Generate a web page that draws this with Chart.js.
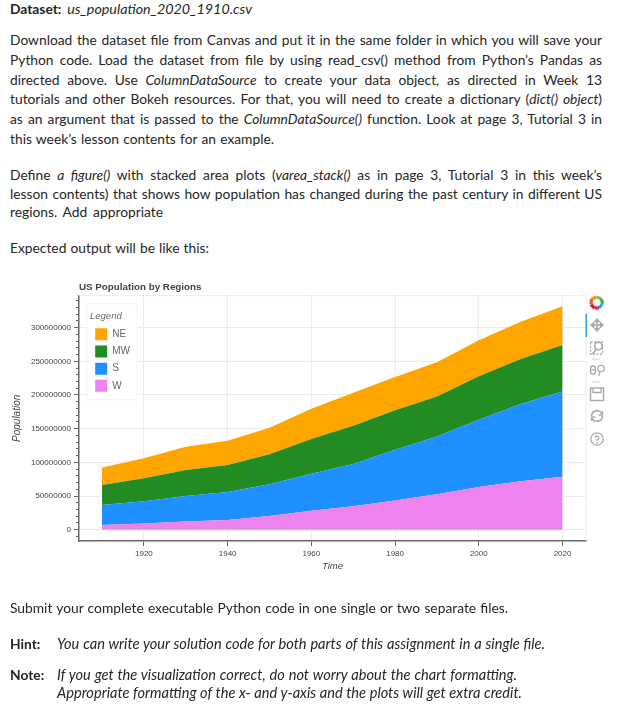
<!DOCTYPE html>
<html>
<head>
<meta charset="utf-8">
<script src="https://cdn.jsdelivr.net/npm/chart.js@4"></script>
<style>
html, body { margin: 0; padding: 0; background: #fff; }
body { width: 617px; height: 712px; position: relative; overflow: hidden; font-family: Lato, sans-serif; font-size: 13.8px; color: #262626; }
.ln { position: absolute; left: 10px; width: 592px; line-height: 18px; white-space: nowrap; text-align: justify; text-align-last: justify; }
.big { font-size: 14.6px; }
canvas { position: absolute; left: 0; top: 275px; }
#tools { position: absolute; left: 0; top: 0; }
</style>
</head>
<body>
<div class="ln" style="top:0px;width:242px"><b>Dataset:</b> <i style="font-size:14.3px">us_population_2020_1910.csv</i></div>
<div class="ln" style="top:31px">Download the dataset file from Canvas and put it in the same folder in which you will save your</div>
<div class="ln" style="top:51px">Python code. Load the dataset from file by using read_csv() method from Python’s Pandas as</div>
<div class="ln" style="top:71px">directed above. Use <i>ColumnDataSource</i> to create your data object, as directed in Week 13</div>
<div class="ln" style="top:90px">tutorials and other Bokeh resources. For that, you will need to create a dictionary (<i>dict() object</i>)</div>
<div class="ln" style="top:110px">as an argument that is passed to the <i>ColumnDataSource()</i> function. Look at page 3, Tutorial 3 in</div>
<div class="ln" style="top:130px;width:264px">this week’s lesson contents for an example.</div>
<div class="ln" style="top:166px">Define <i>a figure()</i> with stacked area plots (<i>varea_stack()</i> as in page 3, Tutorial 3 in this week’s</div>
<div class="ln" style="top:185px">lesson contents) that shows how population has changed during the past century in different US</div>
<div class="ln" style="top:203px;width:153px">regions. Add appropriate</div>
<div class="ln" style="top:239px;width:199px">Expected output will be like this:</div>

<canvas id="popChart" width="617" height="315"></canvas>

<svg id="tools" width="617" height="712" fill="none" stroke="#aaa" stroke-width="1.3">
  <rect x="585.5" y="314" width="1.5" height="23" fill="#26aae1" stroke="none"/>
  <g stroke-width="3.2">
    <path d="M591.5 299 L596.7 297" stroke="#f7931e"/>
    <path d="M596.7 297 L601.5 299" stroke="#8cc63f"/>
    <path d="M601.5 299 L602.5 304" stroke="#39b54a"/>
    <path d="M602.5 304 L599 308" stroke="#29abe2"/>
    <path d="M599 308 L594.5 308" stroke="#ed1e79"/>
    <path d="M594.5 308 L591 304.5" stroke="#c1272d"/>
    <path d="M591 304.5 L591.5 299" stroke="#f15a24"/>
  </g>
  <path d="M597 319 V331 M591 325 H603 M597 319 l-2 2.5 h4 z M597 331 l-2 -2.5 h4 z M591 325 l2.5 -2 v4 z M603 325 l-2.5 -2 v4 z" stroke-width="1.6"/>
  <rect x="590.5" y="342" width="12" height="12" stroke-dasharray="2 1.5"/>
  <circle cx="598.5" cy="346" r="3.8" stroke-width="1.6"/>
  <path d="M596 349.5 L592.5 354" stroke-width="1.8"/>
  <path d="M592 359 H600" stroke="#ddd"/>
  <rect x="590.5" y="366" width="5" height="8" rx="2.5"/>
  <path d="M590.5 370 H595.5"/>
  <circle cx="601" cy="368.5" r="3.2"/>
  <path d="M600 372 L598.5 376"/>
  <path d="M592 382 H600" stroke="#ddd"/>
  <rect x="590.5" y="388" width="13" height="12.5" stroke-width="1.5"/>
  <path d="M593 388 V392.5 H601 V388"/>
  <path d="M591.5 416 A5.5 5.5 0 0 1 602 414 M602.5 416 A5.5 5.5 0 0 1 592 418" stroke-width="1.6"/>
  <path d="M602.5 411 V415 H599 M591.5 421 V417 H595"/>
  <circle cx="597" cy="439" r="6.2"/>
  <path d="M595 437.5 A2 2 0 1 1 597 440 V441 M597 442 V443.5"/>
</svg>

<div class="ln" style="top:599px;width:498px">Submit your complete executable Python code in one single or two separate files.</div>
<div class="ln" style="top:635px;text-align-last:left"><b>Hint:</b></div>
<div class="ln big" style="top:635px;left:57px;width:488px"><i>You can write your solution code for both parts of this assignment in a single file.</i></div>
<div class="ln" style="top:666px;text-align-last:left"><b>Note:</b></div>
<div class="ln big" style="top:666px;left:57px;width:460px"><i>If you get the visualization correct, do not worry about the chart formatting.</i></div>
<div class="ln big" style="top:684px;left:57px;width:465px"><i>Appropriate formatting of the x- and y-axis and the plots will get extra credit.</i></div>

<script>
const years = [1910, 1920, 1930, 1940, 1950, 1960, 1970, 1980, 1990, 2000, 2010, 2020];
const west = [7100000, 9200000, 12300000, 14400000, 20200000, 28100000, 34800000, 43200000, 52800000, 63200000, 71900000, 78600000];
const south = [29400000, 33100000, 37900000, 41700000, 47200000, 55000000, 62800000, 75400000, 85400000, 100200000, 114600000, 126600000];
const midwest = [29900000, 34000000, 38600000, 40100000, 44500000, 51600000, 56600000, 58900000, 59700000, 64400000, 66900000, 68900000];
const northeast = [25900000, 29700000, 34400000, 36000000, 39500000, 44700000, 49000000, 49100000, 50800000, 53600000, 55300000, 57600000];
const yearTicks = [1920, 1940, 1960, 1980, 2000, 2020];
const populationTicks = [-10, 0, 10, 20, 30, 40, 50, 60, 70, 80, 90, 100, 110, 120, 130, 140, 150, 160, 170, 180, 190, 200,
    210, 220, 230, 240, 250, 260, 270, 280, 290, 300, 310, 320, 330, 340].map(m => m * 1000000);

const axisFont = { family: '"Liberation Sans", Arial, sans-serif', size: 8 };
const textGrey = '#444';
const legendGrey = '#666';
const gridGrey = '#ececec';
const isMajor = v => v % 50000000 === 0;

function area(label, values, color, fill) {
    return {
        label: label,
        data: years.map((y, i) => ({ x: y, y: values[i] })),
        backgroundColor: color,
        borderColor: color,
        borderWidth: 0,
        pointRadius: 0,
        tension: 0,
        fill: fill
    };
}

// Moves the built-in legend inside the plot and draws its box and the top/right frame
const plotDecor = {
    id: 'plotDecor',
    beforeLayout(chart) {
        chart.legend._layers = () => [{ z: 1, draw: () => chart.legend.draw() }];
    },
    afterLayout(chart) {
        const a = chart.chartArea;
        const legend = chart.legend;
        legend.left = a.left + 11;
        legend.top = a.top + 8;
        legend.right = legend.left + 47;
        legend.bottom = legend.top + 96;
    },
    afterDatasetsDraw(chart) {
        const a = chart.chartArea;
        const ctx = chart.ctx;
        ctx.save();
        ctx.fillStyle = '#fff';
        ctx.strokeStyle = '#f2f2f2';
        ctx.lineWidth = 1;
        ctx.fillRect(a.left + 8, a.top + 8, 50, 96);
        ctx.strokeRect(a.left + 8, a.top + 8, 50, 96);
        ctx.strokeStyle = gridGrey;
        ctx.beginPath();
        ctx.moveTo(a.left, a.top);
        ctx.lineTo(a.right, a.top);
        ctx.lineTo(a.right, a.bottom);
        ctx.stroke();
        ctx.restore();
    }
};

new Chart(document.getElementById('popChart').getContext('2d'), {
    type: 'line',
    data: {
        datasets: [
            area('W', west, '#EE82EE', 'origin'),
            area('S', south, '#1E90FF', '-1'),
            area('MW', midwest, '#228B22', '-1'),
            area('NE', northeast, '#FFA500', '-1')
        ]
    },
    plugins: [plotDecor],
    options: {
        responsive: false,
        animation: false,
        devicePixelRatio: 1,
        layout: { padding: { right: 31 } },
        plugins: {
            title: {
                display: true,
                text: 'US Population by Regions',
                align: 'start',
                fullSize: false,
                color: '#444',
                font: { family: axisFont.family, size: 9.8, weight: 'bold' },
                padding: { top: 6, bottom: 2.9 }
            },
            legend: {
                position: 'chartArea',
                align: 'start',
                reverse: true,
                title: {
                    display: true,
                    text: 'Legend',
                    position: 'start',
                    color: legendGrey,
                    font: { family: axisFont.family, size: 9.5, style: 'italic' },
                    padding: { top: 8, bottom: 0 }
                },
                labels: {
                    boxWidth: 12,
                    boxHeight: 12,
                    color: legendGrey,
                    font: { family: axisFont.family, size: 10 },
                    padding: 5.2
                }
            },
            tooltip: { enabled: false }
        },
        scales: {
            x: {
                type: 'linear',
                min: 1904.5,
                max: 2025.6,
                title: {
                    display: true,
                    text: 'Time',
                    color: textGrey,
                    font: { family: axisFont.family, size: 9.5, style: 'italic' },
                    padding: { top: 0, bottom: 18 }
                },
                afterBuildTicks: s => { s.ticks = yearTicks.map(v => ({ value: v })); },
                ticks: {
                    autoSkip: false,
                    maxRotation: 0,
                    padding: 3,
                    color: textGrey,
                    font: axisFont,
                    callback: v => String(v)
                },
                grid: {
                    tickLength: 5,
                    tickColor: '#666',
                    color: gridGrey
                },
                border: { color: '#666', width: 1.5 },
                afterFit: s => { s.height = 49; }
            },
            y: {
                stacked: true,
                min: -16800000,
                max: 347500000,
                title: {
                    display: true,
                    text: 'Population',
                    color: textGrey,
                    font: { family: axisFont.family, size: 10, style: 'italic' },
                    padding: { top: 11, bottom: 0 }
                },
                afterBuildTicks: s => { s.ticks = populationTicks.map(v => ({ value: v })); },
                ticks: {
                    autoSkip: false,
                    padding: 3,
                    color: textGrey,
                    font: axisFont,
                    callback: v => (isMajor(v) ? String(v) : '')
                },
                grid: {
                    tickLength: 5,
                    tickColor: '#666',
                    tickBorderDash: c => (c.tick && isMajor(c.tick.value) ? [] : [0, 2, 3, 9]),
                    color: c => (c.tick && isMajor(c.tick.value) ? gridGrey : 'transparent')
                },
                border: { color: '#666', width: 1.5 },
                afterFit: s => { s.width = 79; }
            }
        }
    }
});
</script>
</body>
</html>
